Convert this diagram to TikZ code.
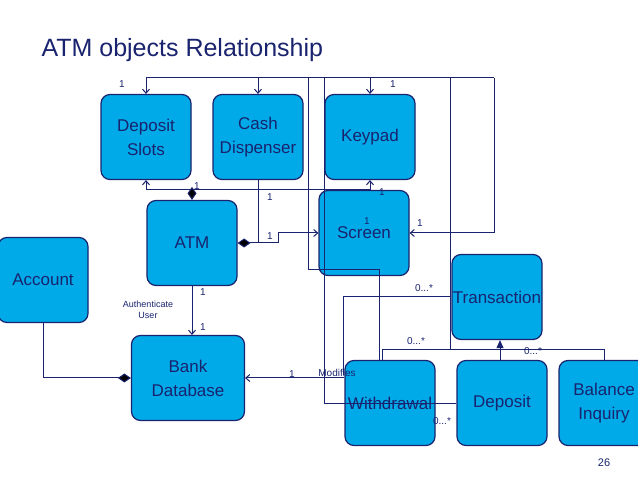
\documentclass[tikz,border=0pt]{standalone}
\usepackage{fontspec}
\setmainfont{Liberation Sans}
\usetikzlibrary{arrows.meta}
\usetikzlibrary{positioning}
\usetikzlibrary{calc}
\definecolor{boxblue}{RGB}{0,170,232}
\definecolor{navy}{RGB}{25,35,110}

\tikzset{
  obj/.style={draw=navy,line width=1.2pt,fill=boxblue,rounded corners=9pt,minimum width=90pt,minimum height=85pt,
    align=center,text=navy,font=\fontsize{17}{24}\selectfont,inner sep=0pt},
  link/.style={navy,line width=1pt},
  arr/.style={link,-{Straight Barb[length=4pt,width=7pt]}},
  whole/.style={link,{Diamond[length=13pt,width=9pt,fill=black]}-},
  lbl/.style={text=navy,font=\fontsize{10}{11}\selectfont,inner sep=1pt}
}

\begin{document}
\begin{tikzpicture}[x=1pt,y=-1pt]
    \useasboundingbox (0,0) rectangle (638,478);

    % title
    \node[anchor=west,text=navy,font=\fontsize{25}{28}\selectfont] (title) at (38,50) {ATM objects Relationship};
    \node[text=navy,font=\fontsize{11}{12}\selectfont] (page) at (604,463) {26};

    % objects
    \node[obj] (DS) at (146,137) {Deposit\\Slots};
    \node[obj] (CD) at (258,137) {Cash\\Dispenser};
    \node[obj] (KP) at (370,137) {Keypad};
    \node[obj] (ATM) at (192,243) {ATM};
    \node[obj] (SC) at (364,233) {Screen};
    \node[obj] (AC) at (43,280) {Account};
    \node[obj] (TR) at (497,297) {Transaction};
    \node[obj,minimum width=113pt] (BD) at (188,378) {Bank\\Database};
    \node[obj] (WD) at (390,403) {Withdrawal};
    \node[obj] (DP) at (502,403) {Deposit};
    \node[obj] (BI) at (604,403) {Balance\\Inquiry};

    % bus along the top
    \coordinate (t1) at (146,78);
    \coordinate (t2) at (494,78);
    \draw[link] (t1) -- (t2);
    \draw[arr] (t1) -- (DS.north);
    \draw[arr] (CD.north |- t1) -- (CD.north);
    \draw[arr] (KP.north |- t1) -- (KP.north);
    \draw[link] (308,78) -- (308,270) -- (379,270) -- (379,361);
    \draw[link] (324,78) -- (324,404) -- (DP.west |- 0,404);
    \draw[link] (450,78) -- (450,350);
    \draw[link] (t2) -- (494,233);
    \draw[arr] (494,233) -- (SC.east |- 0,233);

    % ATM parts
    \coordinate (b1) at (146,190);
    \draw[arr] (b1) -- (DS.south);
    \draw[arr] (b1) -- (370,190) -- (KP.south);
    \draw[whole] (ATM.north) -- (ATM.north |- b1);
    \draw[whole] (ATM.east) -- (258,243) -- (CD.south);
    \draw[arr] (258,243) -- (278,243) -- (278,233) -- (SC.west);
    \draw[arr] (ATM.south) -- (ATM.south |- BD.north);
    \draw[whole] (BD.west) -- (AC.south |- BD.west) -- (AC.south);
    \draw[arr] (WD.west |- BD.east) -- (BD.east);

    % transaction kinds
    \draw[link] (TR.west |- 0,297) -- (343,297) -- (343,375);
    \draw[link] (382,361) -- (382,350) -- (604,350) -- (BI.north);
    \draw[link,-{Triangle[length=8pt,width=7pt]}] (DP.north -| 500,0) -- (TR.south -| 500,0);

    % multiplicities
    \node[lbl] (m1) at (122,84) {1};
    \node[lbl] (m2) at (393,84) {1};
    \node[lbl] (m3) at (197,186) {1};
    \node[lbl] (m4) at (270,197) {1};
    \node[lbl] (m5) at (382,192) {1};
    \node[lbl] (m6) at (367,221) {1};
    \node[lbl] (m7) at (420,223) {1};
    \node[lbl] (m8) at (270,236) {1};
    \node[lbl] (m9) at (203,292) {1};
    \node[lbl] (m10) at (203,327) {1};
    \node[lbl,align=center,font=\fontsize{9}{11}\selectfont] (auth) at (148,310) {Authenticate\\User};
    \node[lbl] (m11) at (292,374) {1};
    \node[lbl] (mod) at (337,373) {Modifies};
    \node[lbl] (m12) at (424,288) {0...*};
    \node[lbl] (m13) at (416,341) {0...*};
    \node[lbl] (m14) at (533,351) {0...*};
    \node[lbl] (m15) at (442,421) {0...*};

\end{tikzpicture}
\end{document}
